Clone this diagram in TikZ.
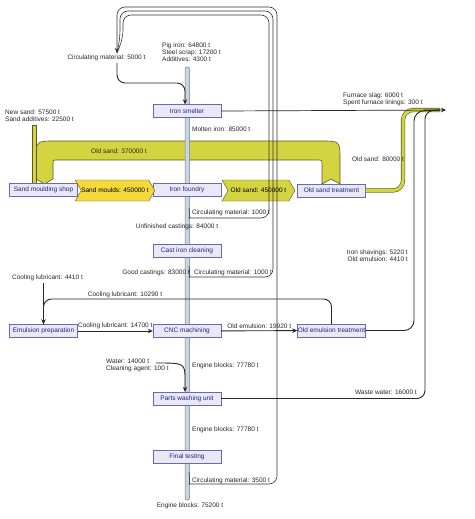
\documentclass[tikz,border=0pt]{standalone}
\usepackage{fontspec}
\setmainfont{Liberation Sans}
\usetikzlibrary{arrows.meta, shapes.symbols, backgrounds}

\definecolor{boxfill}{RGB}{232,232,246}
\definecolor{boxline}{RGB}{104,104,184}
\definecolor{boxtext}{RGB}{36,36,130}
\definecolor{sandyellow}{RGB}{212,212,64}
\definecolor{mouldyellow}{RGB}{244,216,60}
\definecolor{sandline}{RGB}{90,90,40}
\definecolor{pipefill}{RGB}{200,214,228}
\definecolor{pipeline}{RGB}{110,126,146}

\tikzset{
    proc/.style={draw=boxline, fill=boxfill, text=boxtext, minimum width=68pt, minimum height=13pt, inner sep=0pt},
    sandarrow/.style={signal, signal from=west, signal to=east, signal pointer angle=120, draw=sandline, minimum height=21pt, inner sep=0pt},
    lbl/.style={inner sep=0pt, text=black!85},
    flow/.style={black!85, line width=0.9pt},
    ret/.style={black!80, line width=0.6pt, rounded corners=8pt},
}

\begin{document}
\begin{tikzpicture}[x=1pt, y=-1pt, font=\fontsize{6.5}{7.3}\selectfont, >={Stealth[length=5pt,width=4.5pt]}]
        \useasboundingbox (0,0) rectangle (474,519);

        % Process boxes
        \node[proc] (smelter) at (187,111) {Iron smelter};
        \node[proc] (foundry) at (187,190) {Iron foundry};
        \node[proc] (cleaning) at (187,250.5) {Cast iron cleaning};
        \node[proc] (cnc) at (187,331) {CNC machining};
        \node[proc] (washing) at (187,398.5) {Parts washing unit};
        \node[proc] (testing) at (187,457) {Final testing};
        \node[proc] (moulding) at (43.5,190) {Sand moulding shop};
        \node[proc] (emulsion) at (43.5,331) {Emulsion preparation};
        \node[proc] (sandtreat) at (331.5,190.5) {Old sand treatment};
        \node[proc] (oldemul) at (331.5,330.5) {Old emulsion treatment};

        % Sand arrows
        \node[sandarrow, fill=mouldyellow, minimum width=76pt] (moulds) at (115,190.5) {Sand moulds: 450000 t};
        \node[sandarrow, fill=sandyellow, minimum width=73pt] (oldsand) at (258.5,190.5) {Old sand: 450000 t};

        % Sand loop, new sand and main pipe
        \begin{scope}[on background layer]
            \draw[sandline, fill=sandyellow, line width=0.6pt] (36,179) -- (36,160) .. controls (36,141) .. (55,141) -- (321,141) .. controls (340,141) .. (340,160) -- (340,184) -- (331,179) -- (322,184) -- (322,163) .. controls (322,160) .. (319,160) -- (56,160) .. controls (53,160) .. (53,163) -- (53,179) -- (44.5,184) -- cycle;
            \draw[sandline, fill=sandyellow, line width=0.5pt] (32,125) rectangle (36,183);
            \draw[pipeline, fill=pipefill, line width=0.5pt, rounded corners=2pt] (185,67) rectangle (189.5,500);
        \end{scope}
        \node[lbl] (oldsandloop) at (119,151) {Old sand: 370000 t};
        \node[lbl, anchor=west, align=left] (newsand) at (5,115.5) {New sand: 57500 t\\Sand additives: 22500 t};

        % Outputs to the right
        \coordinate (sink) at (446,110);
        \coordinate (sinkin) at (440,110);
        \draw[sandline, double=sandyellow, double distance=3pt, line width=0.6pt, rounded corners=10pt] (sandtreat.east) -- (403,190.5) -- (403,110) -- (sinkin);
        \draw[flow, line width=0.7pt, ->] (smelter.east) -- (sink);
        \draw[flow, rounded corners=10pt] (oldemul.east) -- (414,330.5) -- (414,111) -- (sinkin);
        \draw[flow, rounded corners=8pt] (washing.east) -- (425,398.5) -- (425,111) -- (sinkin);
        \node[lbl, anchor=west, align=left] (slag) at (343,99) {Furnace slag: 6000 t\\Spent furnace linings: 300 t};
        \node[lbl] (sand80) at (378,159) {Old sand: 80000 t};
        \node[lbl, anchor=east, align=right] (shavings) at (408,256) {Iron shavings: 5220 t\\Old emulsion: 4410 t};
        \node[lbl, anchor=east] (waste) at (417,392) {Waste water: 16000 t};

        % Circulating material
        \coordinate (cm5) at (117,53);
        \coordinate (cm5out) at (117,63);
        \draw[ret] (189,208) .. controls (190,218) .. (197,218) -- (269,218) -- (269,15) -- (123,15) -- (123,38) -- (cm5);
        \draw[ret] (189,266) .. controls (190,277) .. (197,277) -- (273,277) -- (273,11) -- (120,11) -- (120,38) -- (cm5);
        \draw[ret, ->] (189,472) .. controls (190,484) .. (197,484) -- (277,484) -- (277,7) -- (117,7) -- (cm5);
        \draw[flow, ->, rounded corners=8pt] (cm5out) -- (117,83) -- (185,83) -- ([xshift=-2pt]smelter.north);
        \node[lbl] (cm5lbl) at (106.5,58) {Circulating material: 5000 t};
        \node[lbl] (cmfoundry) at (231,213) {Circulating material: 1000 t};
        \node[lbl] (cmcleaning) at (233,272.5) {Circulating material: 1000 t};
        \node[lbl] (cmtesting) at (231,480.5) {Circulating material: 3500 t};

        % Cooling lubricant and emulsion
        \node[lbl] (cl4410) at (47.5,278) {Cooling lubricant: 4410 t};
        \coordinate (cltop) at (43.5,283);
        \coordinate (clr) at (331.5,299);
        \coordinate (cll) at (43.5,299);
        \draw[flow, ->] (cltop) -- (emulsion.north);
        \draw[flow, rounded corners=8pt] (oldemul.north) -- (clr) -- (cll) -- (emulsion.north);
        \node[lbl] (cl10290) at (125,295) {Cooling lubricant: 10290 t};
        \draw[flow, ->] (emulsion) -- (cnc) node[midway, above, inner sep=1.5pt, text=black!85] {Cooling lubricant: 14700 t};
        \draw[flow, ->] (cnc) -- (oldemul) node[midway, above, inner sep=1.5pt, text=black!85] {Old emulsion: 19920 t};

        % Washing water
        \node[lbl, anchor=west, align=left] (water) at (106,365.5) {Water: 14000 t\\Cleaning agent: 100 t};
        \coordinate (win) at (156,363);
        \draw[flow, ->] (win) .. controls (185,363) .. (185,380) -- ([xshift=-2pt]washing.north);

        % Labels along the main pipe
        \node[lbl, anchor=west, align=left] (charge) at (162,52) {Pig iron: 64800 t\\Steel scrap: 17200 t\\Additives: 4300 t};
        \node[lbl, anchor=west] (molten) at (192,129) {Molten iron: 85000 t};
        \node[lbl] (unfinished) at (177,227) {Unfinished castings: 84000 t};
        \node[lbl, anchor=east] (good) at (190,273) {Good castings: 83000 t};
        \node[lbl, anchor=west] (blocks1) at (192,366) {Engine blocks: 77780 t};
        \node[lbl, anchor=west] (blocks2) at (192,430) {Engine blocks: 77780 t};
        \node[lbl] (blocks3) at (190,506) {Engine blocks: 75200 t};
    \end{tikzpicture}
\end{document}
